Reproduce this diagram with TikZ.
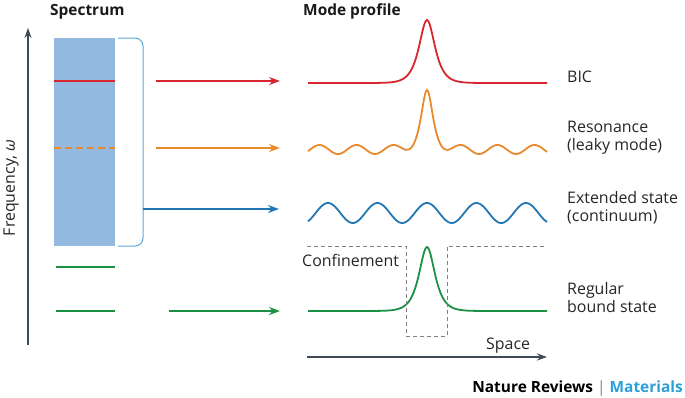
\documentclass[tikz,border=0pt]{standalone}
\usepackage{fontspec}
\setmainfont{Open Sans}
\usetikzlibrary{arrows.meta,positioning}
\definecolor{bicred}{HTML}{D7262E}
\definecolor{leakorange}{HTML}{E8892B}
\definecolor{contblue}{HTML}{2278B5}
\definecolor{boundgreen}{HTML}{1B9145}
\definecolor{bandblue}{HTML}{93B9E0}
\definecolor{brkblue}{HTML}{5AA6D8}
\definecolor{axisgray}{HTML}{3D4A55}
\definecolor{matblue}{HTML}{2A9FD8}
\begin{document}
\begin{tikzpicture}[x=1bp,y=-1bp,
  declare function={sechp(\u)=2*exp(-min(abs(\u),9))/(1+exp(-2*min(abs(\u),9)));},
  lbl/.style={anchor=west,inner sep=0,align=left,text=black!85,font=\fontsize{16}{17.5}\selectfont},
  ttl/.style={anchor=base west,inner sep=0,text=black!90,font=\bfseries\fontsize{15.5}{18}\selectfont},
  axis/.style={draw=axisgray,line width=2bp,-{Stealth[length=10bp,width=7bp]}},
  mode/.style={line width=1.8bp,-{Stealth[length=11bp,width=8bp]}},
  level/.style={line width=1.6bp},
  prof/.style={line width=1.8bp,smooth,domain=308:547,samples=200}]
\useasboundingbox (0,0) rectangle (685,397);
\node[ttl] (spec) at (50,15) {Spectrum};
\node[ttl] (mprof) at (303,15) {Mode profile};
\coordinate (w0) at (28,345);
\coordinate (w1) at (28,28);
\draw[axis] (w0) -- (w1);
\node[lbl,anchor=center,rotate=90] (freq) at (11,188) {Frequency, \textit{ω}};
\node[fill=bandblue,minimum width=61bp,minimum height=208bp,inner sep=0,anchor=north west] (band) at (54,38) {};
\draw[brkblue,line width=1bp,rounded corners=8bp] (118,38) -- (143,38) -- (143,246) -- (118,246);
\coordinate (brk) at (143,209);
\draw[level,bicred] (54,81) -- (115,81);
\draw[level,leakorange,dash pattern=on 7bp off 4bp] (54,148) -- (115,148);
\draw[level,boundgreen] (56,267) -- (115,267);
\draw[level,boundgreen] (56,311) -- (115,311);
\coordinate (redS) at (156,81);   \coordinate (redE) at (280,81);
\coordinate (orS) at (156,148);   \coordinate (orE) at (280,148);
\coordinate (blE) at (279,209);
\coordinate (grS) at (169,311);   \coordinate (grE) at (280,311);
\draw[mode,bicred] (redS) -- (redE);
\draw[mode,leakorange] (orS) -- (orE);
\draw[mode,contblue] (brk) -- (blE);
\draw[mode,boundgreen] (grS) -- (grE);
\draw[prof,bicred] plot (\x,{83-63*sechp((\x-427)/7)});
\draw[prof,leakorange] plot (\x,{149.5-59.5*sechp((\x-427)/5)-4.5*cos((abs(\x-427)-33.5)*9.7297)*(1-sechp((\x-427)/8))});
\draw[prof,contblue] plot (\x,{213-10*cos((\x-427)*7.2727)});
\draw[prof,boundgreen] plot (\x,{311-64*sechp((\x-427)/7)});
\draw[gray,line width=1bp,dash pattern=on 4bp off 3bp] (307,246) -- (406,246) -- (406,336) -- (447,336) -- (447,246) -- (547,246);
\node[lbl,anchor=base west] (conf) at (302,266) {Confinement};
\coordinate (s0) at (307,357);
\coordinate (s1) at (547,357);
\draw[axis] (s0) -- (s1);
\node[lbl,anchor=base west] (space) at (486,349) {Space};
\node[lbl,anchor=base west] (bic) at (567,82) {BIC};
\node[lbl] (res) at (567,137.5) {Resonance\\(leaky mode)};
\node[lbl] (ext) at (567,207.5) {Extended state\\(continuum)};
\node[lbl] (reg) at (567,297.5) {Regular\\bound state};
\node[anchor=base east,inner sep=0,font=\fontsize{15.5}{18}\selectfont] (jrnl) at (683,392) {\textbf{Nature Reviews} {\color{gray}|} \textcolor{matblue}{\textbf{Materials}}};
\end{tikzpicture}
\end{document}
